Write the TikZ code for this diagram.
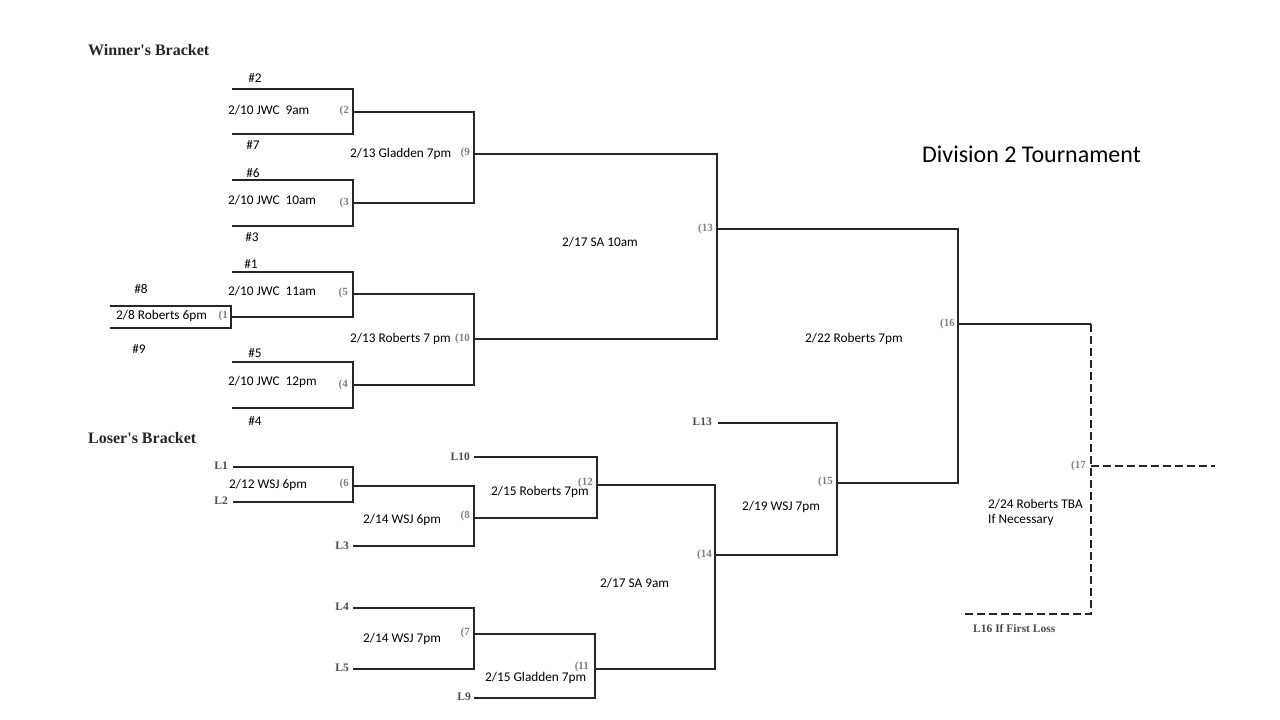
\documentclass[tikz,border=0pt]{standalone}
\usepackage{fontspec}
\setmainfont{Carlito}
\newfontfamily\tms{Liberation Serif}
\begin{document}
\begin{tikzpicture}[x=1pt,y=-1pt,
  br/.style={line width=2.2pt, draw=black!85},
  dsh/.style={line width=2.2pt, draw=black!85, dash pattern=on 8pt off 4pt},
  lbl/.style={anchor=west, inner sep=0pt, font=\fontsize{13.3}{15}\selectfont},
  seed/.style={inner sep=0pt, font=\fontsize{13.3}{15}\selectfont},
  mn/.style={anchor=east, inner sep=0pt, font=\tms\bfseries\fontsize{11}{12}\selectfont, text=black!50},
  ln/.style={anchor=east, inner sep=0pt, font=\tms\bfseries\fontsize{11.5}{13}\selectfont, text=black!70},
  hd/.style={anchor=west, inner sep=0pt, font=\tms\bfseries\fontsize{16}{18}\selectfont, text=black!85}]
\useasboundingbox[fill=white] (0,0) rectangle (1280,720);

% ---------- coordinates ----------
% winner's bracket
\coordinate (s2) at (232,89);   \coordinate (s7) at (232,134);  \coordinate (o2) at (353,112);
\coordinate (s6) at (232,180);  \coordinate (s3) at (232,226);  \coordinate (o3) at (353,203);
\coordinate (s1) at (232,272);  \coordinate (o5) at (353,294);
\coordinate (s8) at (110,306);  \coordinate (s9) at (110,328);  \coordinate (o1) at (231,317);
\coordinate (s5) at (232,362);  \coordinate (s4) at (232,408);  \coordinate (o4) at (353,385);
\coordinate (o9) at (474,154);  \coordinate (o10) at (474,339);
\coordinate (o13) at (717,229); \coordinate (o16) at (958,324);
\coordinate (t17) at (1091,324);
\coordinate (o17) at (1091,466); \coordinate (c17) at (1215,466); \coordinate (l16) at (961,614);
% loser's bracket
\coordinate (l1) at (233,467);  \coordinate (l2) at (233,502);  \coordinate (o6) at (353,486);
\coordinate (l3) at (353,546);  \coordinate (o8) at (474,518);
\coordinate (l10) at (474,457); \coordinate (o12) at (597,485);
\coordinate (l4) at (353,608);  \coordinate (l5) at (353,669);  \coordinate (o7) at (474,634);
\coordinate (l9) at (474,698);  \coordinate (o11) at (595,669);
\coordinate (o14) at (715,555);
\coordinate (l13) at (718,423); \coordinate (o15) at (837,483);

% ---------- bracket lines ----------
\draw[br] (s2) -| (o2) |- (s7);
\draw[br] (s6) -| (o3) |- (s3);
\draw[br] (s1) -| (o5) |- (o1);
\draw[br] (s8) -| (o1) |- (s9);
\draw[br] (s5) -| (o4) |- (s4);
\draw[br] (o2) -| (o9) |- (o3);
\draw[br] (o5) -| (o10) |- (o4);
\draw[br] (o9) -| (o13) |- (o10);
\draw[br] (o13) -| (o16) |- (o15);
\draw[br] (l1) -| (o6) |- (l2);
\draw[br] (o6) -| (o8) |- (l3);
\draw[br] (l10) -| (o12) |- (o8);
\draw[br] (l4) -| (o7) |- (l5);
\draw[br] (o7) -| (o11) |- (l9);
\draw[br] (o12) -| (o14) |- (o11);
\draw[br] (l13) -| (o15) |- (o14);
\draw[br] (o16) -- (t17);
\draw[dsh] (t17) -- (o17) |- (l16);
\draw[dsh] (o17) -- (c17);

% ---------- headings ----------
\node[hd] (hw) at (88,50) {Winner's Bracket};
\node[hd] (hl) at (88,438) {Loser's Bracket};
\node[anchor=west, inner sep=0pt, font=\fontsize{24}{28}\selectfont] (title) at (922,154) {Division 2 Tournament};

% ---------- seeds ----------
\node[seed] (n2) at (255,78) {\#2};
\node[seed] (n7) at (253,145) {\#7};
\node[seed] (n6) at (253,173) {\#6};
\node[seed] (n3) at (252,237) {\#3};
\node[seed] (n1) at (251,264) {\#1};
\node[seed] (n8) at (141,289) {\#8};
\node[seed] (n9) at (139,349) {\#9};
\node[seed] (n5) at (255,353) {\#5};
\node[seed] (n4) at (255,421) {\#4};

% ---------- game labels ----------
\node[lbl] (g2) at (228,110) {2/10 JWC\ \ 9am};
\node[lbl] (g3) at (228,200) {2/10 JWC\ \ 10am};
\node[lbl] (g5) at (228,291) {2/10 JWC\ \ 11am};
\node[lbl] (g4) at (228,382) {2/10 JWC\ \ 12pm};
\node[lbl] (g1) at (116,316) {2/8 Roberts 6pm};
\node[lbl] (g9) at (350,154) {2/13 Gladden 7pm};
\node[lbl] (g10) at (350,339) {2/13 Roberts 7 pm};
\node[lbl] (g13) at (562,242) {2/17 SA 10am};
\node[lbl] (g16) at (805,339) {2/22 Roberts 7pm};
\node[lbl] (g6) at (229,485) {2/12 WSJ 6pm};
\node[lbl] (g8) at (363,520) {2/14 WSJ 6pm};
\node[lbl] (g12) at (491,492) {2/15 Roberts 7pm};
\node[lbl] (g7) at (363,639) {2/14 WSJ 7pm};
\node[lbl] (g11) at (485,678) {2/15 Gladden 7pm};
\node[lbl] (g14) at (600,583) {2/17 SA 9am};
\node[lbl] (g15) at (742,507) {2/19 WSJ 7pm};
\node[lbl, align=left] (g17) at (988,512) {2/24 Roberts TBA\\If Necessary};

% ---------- match numbers ----------
\node[mn] (m2) at (349,111) {(2};
\node[mn] (m3) at (349,203) {(3};
\node[mn] (m5) at (348,293) {(5};
\node[mn] (m1) at (228,316) {(1};
\node[mn] (m4) at (348,385) {(4};
\node[mn] (m9) at (470,153) {(9};
\node[mn] (m10) at (470,339) {(10};
\node[mn] (m13) at (713,229) {(13};
\node[mn] (m16) at (955,324) {(16};
\node[mn] (m6) at (349,484) {(6};
\node[mn] (m8) at (470,516) {(8};
\node[mn] (m12) at (593,483) {(12};
\node[mn] (m7) at (470,633) {(7};
\node[mn] (m11) at (589,667) {(11};
\node[mn] (m14) at (712,555) {(14};
\node[mn] (m15) at (833,482) {(15};
\node[mn] (m17) at (1086,466) {(17};

% ---------- loser entries ----------
\node[ln] (tl1) at (228,466) {L1};
\node[ln] (tl2) at (228,501) {L2};
\node[ln] (tl3) at (349,546) {L3};
\node[ln] (tl10) at (470,457) {L10};
\node[ln] (tl4) at (349,607) {L4};
\node[ln] (tl5) at (349,668) {L5};
\node[ln] (tl9) at (471,697) {L9};
\node[ln] (tl13) at (712,422) {L13};
\node[ln, anchor=west] (tl16) at (973,629) {L16 If First Loss};
\end{tikzpicture}
\end{document}
